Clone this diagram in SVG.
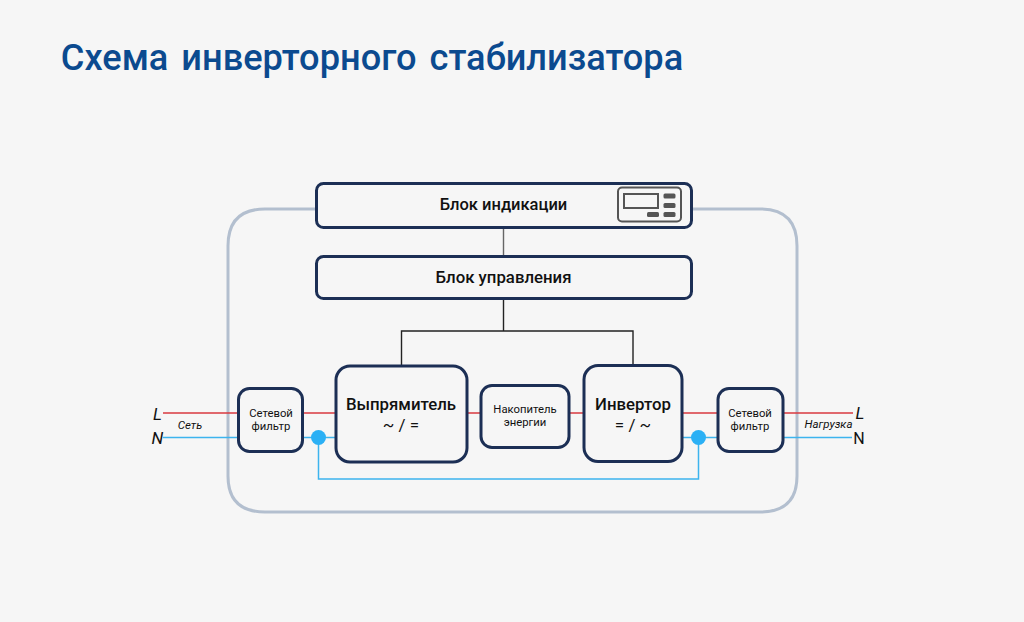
<svg xmlns="http://www.w3.org/2000/svg" width="1024" height="622" viewBox="0 0 1024 622">
<style>
text{font-family:Roboto,"Liberation Sans",sans-serif;fill:#111;text-anchor:middle}
.box{fill:#f6f6f6;stroke:#1c2f55;stroke-width:3}
.r{stroke:#d93a40;stroke-width:1.5;fill:none}
.b{stroke:#3cb4ee;stroke-width:1.5;fill:none}
.k{stroke:#222;stroke-width:1.4;fill:none}
.m{font-size:16.800px;font-weight:500}
.s{font-size:11.300px;font-weight:400}
.i{font-size:11.500px;font-style:italic}
.p{font-size:17px;font-style:italic;font-weight:400}
.g{font-size:17px;font-weight:400}
</style>
<rect width="1024" height="622" fill="#f6f6f6"/>
<text x="372" y="70" style="font-size:36.200px;font-weight:500;fill:#0b4a8f;word-spacing:4px">Схема инверторного стабилизатора</text>
<path id="casing" d="M316 209H265Q228 209 228 246V476Q228 512 265 512H760Q797 512 797 476V246Q797 209 760 209H692" fill="none" stroke="#b3bfcf" stroke-width="3"/>
<g id="connectors">
<path class="k" style="stroke:#666" d="M503.500 227V256"/>
<path class="k" d="M503.500 299V331M401.500 365V331H633V365"/>
<path class="r" d="M163 413H239M303 413H336M467 413H481M569 413H584M682 413H718M784 413H853"/>
<path class="b" d="M163 437.500H239M303 437.500H336M683 437.500H718M784 437.500H852M318.500 437.500V479H698.500V437.500"/>
<circle cx="318.500" cy="437.500" r="7.500" fill="#2bb0f5"/>
<circle cx="698.500" cy="437.500" r="7.500" fill="#2bb0f5"/>
</g>
<g id="indication">
<rect class="box" x="316.500" y="183.500" width="375" height="44" rx="7"/>
<text class="m" x="503.500" y="210" style="font-size:16.500px">Блок индикации</text>
<g id="display-icon">
<rect x="618" y="187.500" width="63" height="34" rx="4" fill="#f6f6f6" stroke="#555" stroke-width="2"/>
<rect x="624" y="194" width="34" height="14" fill="none" stroke="#555" stroke-width="2"/>
<rect x="663.500" y="193.500" width="12" height="5" rx="1.500" fill="#555"/>
<rect x="663.500" y="203" width="12" height="5" rx="1.500" fill="#555"/>
<rect x="663.500" y="212" width="12" height="5" rx="1.500" fill="#555"/>
<rect x="647" y="212" width="12" height="5" rx="1.500" fill="#555"/>
</g>
</g>
<g id="control">
<rect class="box" x="316.500" y="256.500" width="375" height="42" rx="7"/>
<text class="m" x="503.500" y="283">Блок управления</text>
</g>
<g id="filter-in">
<rect class="box" x="238.500" y="388.500" width="64" height="63" rx="11"/>
<text class="s" x="271" y="417">Сетевой</text>
<text class="s" x="271" y="430">фильтр</text>
</g>
<g id="rectifier">
<rect class="box" x="336" y="366" width="131" height="96" rx="14"/>
<text class="m" x="401" y="410">Выпрямитель</text>
<text class="g" x="401" y="431">~ / =</text>
</g>
<g id="storage">
<rect class="box" x="481" y="385.500" width="88" height="62" rx="11"/>
<text class="s" x="525" y="413">Накопитель</text>
<text class="s" x="525" y="426">энергии</text>
</g>
<g id="inverter">
<rect class="box" x="584" y="365.500" width="98" height="96" rx="14"/>
<text class="m" x="633" y="410">Инвертор</text>
<text class="g" x="633" y="431">= / ~</text>
</g>
<g id="filter-out">
<rect class="box" x="718" y="388.500" width="65" height="63" rx="11"/>
<text class="s" x="750" y="417">Сетевой</text>
<text class="s" x="750" y="430">фильтр</text>
</g>
<text class="p" x="157.500" y="420">L</text>
<text class="p" x="157.500" y="444">N</text>
<text class="i" x="190" y="429">Сеть</text>
<text class="i" x="828.500" y="428">Нагрузка</text>
<text class="p" x="860" y="419">L</text>
<text x="859" y="444" style="font-size:16px">N</text>
</svg>
